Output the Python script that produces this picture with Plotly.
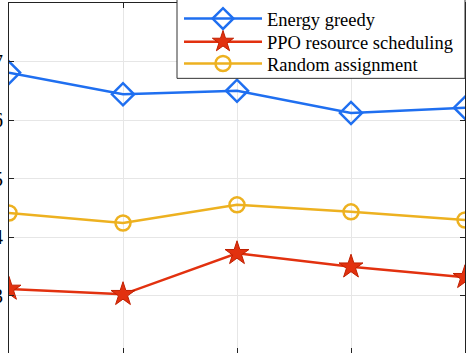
import plotly.graph_objects as go

x_vals = [1, 2, 3, 4, 5]
energy_greedy = [6.81, 6.44, 6.50, 6.12, 6.21]
ppo_sched = [3.11, 3.02, 3.72, 3.49, 3.31]
random_assign = [4.41, 4.24, 4.55, 4.43, 4.29]
y_ticks = [2, 3, 4, 5, 6, 7, 8]

FONT = "Liberation Serif, Times New Roman, serif"
W, H, L, R = 474, 353, 9, 9
row_centers = [16.2, 39.5, 61.5]   # legend row centres (px from top)
leg_left = 179

fig = go.Figure()
fig.add_trace(go.Scatter(x=x_vals, y=energy_greedy, name="Energy greedy", mode="lines+markers",
                         line=dict(color="#1f6ff0", width=2.5), legend="legend",
                         marker=dict(symbol="diamond-open", size=17, color="#1f6ff0", line=dict(width=2.5))))
fig.add_trace(go.Scatter(x=x_vals, y=ppo_sched, name="PPO resource scheduling", mode="lines+markers",
                         line=dict(color="#e2310f", width=2.5), legend="legend2",
                         marker=dict(symbol="star", size=18, color="#e2310f", line=dict(width=1, color="#c02000"))))
fig.add_trace(go.Scatter(x=x_vals, y=random_assign, name="Random assignment", mode="lines+markers",
                         line=dict(color="#EDB120", width=2.5), legend="legend3",
                         marker=dict(symbol="circle-open", size=15, color="#EDB120", line=dict(width=2.5))))

pw = W - L - R
def leg(i):
    return dict(x=(leg_left - L) / pw, xanchor="left", y=1 - row_centers[i] / H, yanchor="middle",
                bgcolor="rgba(0,0,0,0)", borderwidth=0, itemwidth=78,
                font=dict(family=FONT, size=18.5, color="black"))

fig.update_layout(
    width=W, height=H,
    margin=dict(l=L, r=R, t=0, b=0),
    plot_bgcolor="white", paper_bgcolor="white",
    font=dict(family=FONT, size=18, color="black"),
    showlegend=True,
    legend=leg(0), legend2=leg(1), legend3=leg(2),
    shapes=[dict(type="rect", xref="paper", yref="paper",
                 x0=(177 - L) / pw, x1=1.0, y0=1 - 76 / H, y1=1.01,
                 line=dict(color="#333333", width=1), fillcolor="white", layer="above")],
)
fig.update_xaxes(range=[1, 5], tickvals=x_vals, showgrid=True, gridcolor="#e6e6e6",
                 showline=True, linecolor="#222222", linewidth=1, mirror="ticks",
                 ticks="inside", ticklen=5, tickcolor="#222222", zeroline=False,
                 showticklabels=False, automargin=False)
fig.update_yaxes(range=[2.017, 8.0], tickvals=y_ticks, showgrid=True, gridcolor="#e6e6e6",
                 showline=True, linecolor="#222222", linewidth=1, mirror="ticks",
                 ticks="inside", ticklen=5, tickcolor="#222222", zeroline=False,
                 automargin=False, ticklabelstandoff=1,
                 tickfont=dict(size=20, family=FONT))

fig.write_html("out.html")
